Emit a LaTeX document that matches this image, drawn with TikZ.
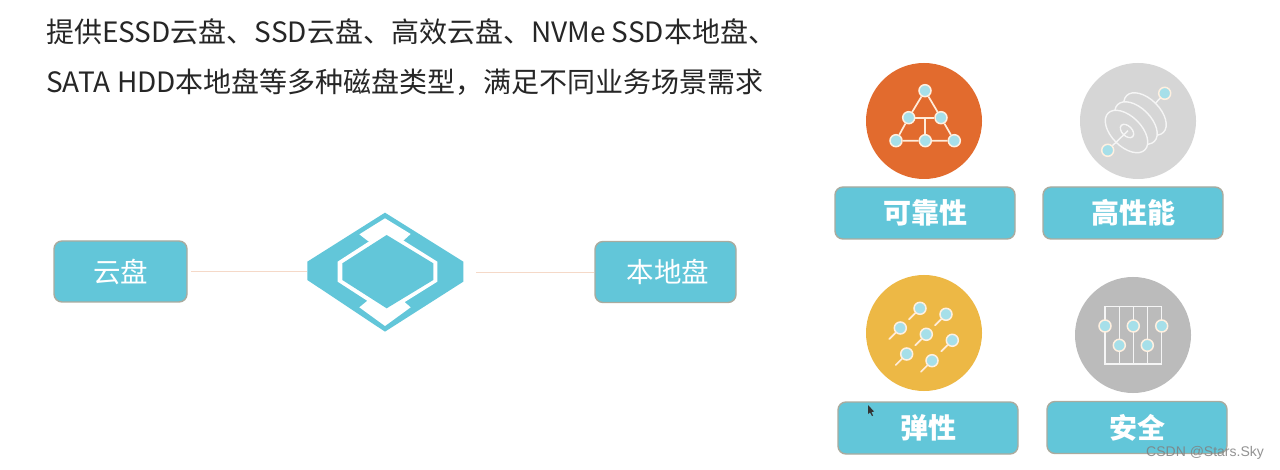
\documentclass[tikz,border=0pt]{standalone}
\usepackage{fontspec}
\setmainfont{Noto Sans CJK SC}
\newfontfamily\wmfont{Liberation Sans}
\definecolor{teal}{HTML}{62C6D9}
\definecolor{edgegray}{HTML}{A9AB9F}
\definecolor{dotblue}{HTML}{A6DFE9}
\definecolor{linkorange}{HTML}{F5D9C8}
\definecolor{corange}{HTML}{E26B2E}
\definecolor{clight}{HTML}{D6D6D6}
\definecolor{cyellow}{HTML}{EDB845}
\definecolor{cdark}{HTML}{BBBBBB}
\definecolor{txt}{HTML}{262626}
\tikzset{
  headline/.style={anchor=west,inner sep=0pt,text=txt,font=\fontsize{28}{30}\selectfont},
  bluebox/.style={draw=edgegray,line width=1.4pt,fill=teal,rounded corners=8pt,minimum height=#1,inner sep=0pt,text=white},
  smallbox/.style={bluebox=61pt,font=\fontsize{27.5}{30}\selectfont},
  tagbox/.style={bluebox=52pt,minimum width=180pt,font=\bfseries\fontsize{28}{30}\selectfont},
  disc/.style={circle,minimum size=116pt,inner sep=0pt},
  dot/.style={circle,fill=dotblue,draw=white!88!orange,line width=1.5pt,minimum size=11pt,inner sep=0pt},
  dotl/.style={dot,minimum size=12pt},
  wire/.style={draw=white!85!orange,line width=1.7pt},
  thinwire/.style={draw=white!92!gray,line width=1.4pt},
  link/.style={draw=linkorange,line width=1.1pt}
}
\begin{document}
\begin{tikzpicture}[x=1pt,y=-1pt]
\useasboundingbox[fill=white] (0,0) rectangle (1280,470);

% heading
\node[headline] (h1) at (46,32) {提供ESSD云盘、SSD云盘、高效云盘、NVMe SSD本地盘、};
\node[headline] (h2) at (46,82) {SATA HDD本地盘等多种磁盘类型，满足不同业务场景需求};

% left group
\node[smallbox,minimum width=133pt] (cloud) at (120.5,271.5) {云盘};
\node[smallbox,minimum width=141pt] (local) at (665.5,272) {\hspace{5pt}本地盘};
\coordinate (cloudout) at (191,271.5);
\coordinate (dl) at (307,271.5);
\coordinate (dr) at (476,272.5);
\coordinate (localin) at (594,272.5);
\draw[link] (cloudout) -- (dl);
\draw[link] (dr) -- (localin);

\begin{scope}[shift={(290,200)},x=0.3333pt,y=-0.3333pt]
  \fill[teal] (285,38) -- (520,185) -- (520,245) -- (285,395) -- (52,240) -- (52,185) -- cycle;
  \fill[white] (285,55) -- (362,102) -- (340,122) -- (290,110) -- (235,124) -- (208,103) -- cycle;
  \fill[white] (208,322) -- (235,300) -- (290,320) -- (340,303) -- (362,322) -- (285,378) -- cycle;
  \fill[white] (290,90) -- (442,185) -- (442,245) -- (290,340) -- (143,245) -- (143,185) -- cycle;
  \fill[teal] (290,105) -- (430,190) -- (430,240) -- (290,325) -- (157,240) -- (157,190) -- cycle;
\end{scope}

% discs
\node[disc,fill=corange] (d1) at (924,121) {};
\node[disc,fill=clight] (d2) at (1138,121) {};
\node[disc,fill=cyellow] (d3) at (924,333) {};
\node[disc,fill=cdark] (d4) at (1133,335) {};

% labels
\node[tagbox] (t1) at (925,213) {可靠性};
\node[tagbox] (t2) at (1133,213) {高性能};
\node[tagbox] (t3) at (928,428) {弹性};
\node[tagbox] (t4) at (1137,427.5) {安全};

% reliability icon
\node[dotl] (a1) at (925,90.7) {};
\node[dotl] (a2) at (908.7,117.7) {};
\node[dotl] (a3) at (941,117.7) {};
\node[dotl] (a4) at (896,140.7) {};
\node[dotl] (a5) at (925.3,140.7) {};
\node[dotl] (a6) at (954.3,140.7) {};
\coordinate (a7) at (925.3,117.7);
\draw[wire] (a1) -- (a2) -- (a4) -- (a5) -- (a6) -- (a3) -- (a1);
\draw[wire] (a2) -- (a3);
\draw[wire] (a7) -- (a5);

% performance icon
\coordinate (b3) at (1128,130.7);
\coordinate (b4) at (1150,109);
\coordinate (b5) at (1164.7,93.3);
\draw[thinwire] (b5) -- (b4);
\begin{scope}[thinwire,fill=clight]
  \filldraw[rotate around={-45:(1145,114)}] (1145,114) ellipse (26pt and 15pt);
  \filldraw[rotate around={-45:(1136,123)}] (1136,123) ellipse (26pt and 15pt);
  \filldraw[rotate around={-45:(1126.5,131.5)}] (1126.5,131.5) ellipse (26pt and 15pt);
  \draw[rotate around={-45:(1127,131)}] (1127,131) ellipse (8pt and 5pt);
\end{scope}
\node[dotl] (b1) at (b5) {};
\node[dotl] (b2) at (1107.7,150.3) {};
\draw[thinwire] (b2) -- (b3);

% elasticity icon
\foreach \n/\x/\y in {1/920/308.3,2/946/314.3,3/900.3/328,4/926.3/334.3,5/952.3/340.3,6/906.7/354,7/932/360.7}{
  \node[dot,minimum size=12pt] (c\n) at (\x,\y) {};
  \coordinate (e\n) at (\x-11,\y+11);
  \draw[wire,line cap=round] (c\n) -- (e\n);
}

% security icon
\coordinate (s1) at (1105,306.7);
\coordinate (s2) at (1161.7,364);
\draw[thinwire] (s1) rectangle (s2);
\foreach \n/\x in {1/1119.3,2/1133.3,3/1147.3}{
  \coordinate (u\n) at (\x,306.7);
  \coordinate (v\n) at (\x,364);
  \draw[thinwire] (u\n) -- (v\n);
}
\node[dotl] (f1) at (1105,326) {};
\node[dotl] (f2) at (1133.3,326) {};
\node[dotl] (f3) at (1161.7,326) {};
\node[dotl] (f4) at (1119.3,345.3) {};
\node[dotl] (f5) at (1147.3,345.3) {};

% cursor
\fill[black!80] (868,405) -- (868,414) -- (870,412.5) -- (872,416) -- (873,415.5) -- (871.5,412) -- (874,411.5) -- cycle;

% watermark
\node[anchor=west,inner sep=0pt,text=gray,opacity=0.85,font=\wmfont\fontsize{14}{16}\selectfont] (wm) at (1146,453) {CSDN @Stars.Sky};
\end{tikzpicture}
\end{document}
